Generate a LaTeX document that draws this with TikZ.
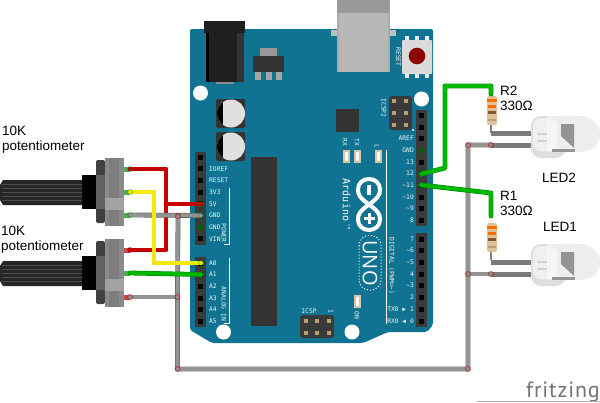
\documentclass[tikz,border=0pt]{standalone}
\usepackage{fontspec}
\setmainfont{Liberation Sans}
\newfontfamily\pcbfont{DejaVu Sans Mono}
\newfontfamily\unofont{Open Sans}
\newfontfamily\fritzfont[LetterSpace=4]{PT Sans}
\definecolor{board}{HTML}{0F7391}
\definecolor{hdr}{HTML}{3A3A3A}
\definecolor{chipc}{HTML}{333333}
\definecolor{potdark}{HTML}{8A8A8A}
\definecolor{potmid}{HTML}{7D7D7D}
\definecolor{potlight}{HTML}{A2A2A2}
\definecolor{knob}{HTML}{262626}
\definecolor{gold}{HTML}{B8A070}
\tikzset{
  lbl/.style={font=\fontsize{13.5}{14}\selectfont,text=black,inner sep=0pt,anchor=base west},
  silk/.style={font=\pcbfont\fontsize{6.3}{7}\selectfont,text=white!92!board,inner sep=0pt},
  wirebase/.style={line width=.6pt,double distance=3.6pt,line cap=round,line join=round},
  wred/.style={wirebase,draw=red!60!black,double=red!78!black},
  wyellow/.style={wirebase,draw=yellow!75!black,double=yellow!95!black},
  wgreen/.style={wirebase,draw=green!55!black,double=green!72!black},
  wgray/.style={wirebase,draw=black!60,double=black!42},
  junc/.style={draw=red!75!black,draw opacity=.55,line width=.9pt,fill=none,circle,minimum size=5pt,inner sep=0pt},
  gjunc/.style={draw=green!60!black,draw opacity=.4,line width=.9pt,fill=none,circle,minimum size=5pt,inner sep=0pt},
  hole/.style={fill=white,draw=none},
  lead/.style={line width=5pt,draw=black!52}
}
\newcommand{\potentiometer}[1]{%
\begin{scope}[yshift=#1]
  \fill[knob] (3,180) -- (82,180) -- (82,205) -- (3,205) -- (0,200) -- (0,185) -- cycle;
  \foreach \yy in {184,188,192,196,200}{\draw[black!70,line width=.5pt] (2,\yy) -- (82,\yy);}
  \fill[black] (82,175) rectangle (96,209);
  \fill[black!75,rounded corners=2pt] (96,160) rectangle (105,223);
  \fill[black!62] (96,175) rectangle (105,209);
  \fill[potdark] (105,158) rectangle (124,226);
  \fill[potmid] (109,158) rectangle (119,226);
  \fill[potlight] (105,198) rectangle (124,210);
\end{scope}}
\newcommand{\ledlamp}[1]{%
\begin{scope}[yshift=#1]
  \fill[black!13,rounded corners=10pt] (531,116) rectangle (566,158);
  \fill[black!7] (547,116) -- (578,116) .. controls (592,116) and (600,124) .. (600,134) .. controls (600,144) and (592,152) .. (578,152) -- (547,152) -- cycle;
  \fill[white,opacity=.55,rounded corners=8pt] (533,118) rectangle (558,151);
  \fill[black!42] (561,124) -- (574,124) -- (574,148) -- (561,136) -- cycle;
  \fill[black!42] (552,149) rectangle (575,152);
  \fill[black!18] (537,133) rectangle (547,135);
  \fill[black!18] (537,140) rectangle (547,142);
\end{scope}}
\newcommand{\resistorbody}[1]{%
\begin{scope}[yshift=#1]
  \fill[black!50] (490,125) rectangle (492,133);
  \fill[gold!80!orange!60!white,rounded corners=2pt] (487,96) rectangle (497,125);
  \fill[orange!85!red] (487,99) rectangle (497,102);
  \fill[orange!85!red] (488,105) rectangle (496,108);
  \fill[brown!70!black] (488,111) rectangle (496,114);
  \fill[gold] (488,119) rectangle (496,121);
\end{scope}}
\begin{document}
\begin{tikzpicture}[x=1pt,y=-1pt]
\useasboundingbox (0,0) rectangle (600,402);
\fill[white] (0,0) rectangle (600,402);
% ---------- board
\fill[board,rounded corners=2pt] (190,29) -- (433,29) -- (433,325) -- (427,332) -- (388,332) -- (363,343) -- (212,343) -- (190,330) -- cycle;
% usb
\fill[black!25] (331,30) rectangle (396,36);
\fill[black!33] (337,0) rectangle (390,72);
\fill[black!40] (337,0) rectangle (390,13);
\fill[black!28] (339,13) rectangle (388,72);
% jack
\fill[black!88] (204,21) rectangle (245,33);
\fill[black!88] (206,33) rectangle (244,82);
\fill[black] (206,33) rectangle (209,82);
\fill[black!80] (237,33) rectangle (244,82);
\fill[black!45] (216,82) rectangle (234,84);
% regulator
\fill[black!40] (260,48) rectangle (277,56);
\fill[chipc] (253,56) rectangle (284,72);
\foreach \xx in {255,266,276}{\fill[black!35] (\xx,72) rectangle +(6,8);}
% reset button
\foreach \xx in {405,415,425}{\fill[black!8] (\xx,36) rectangle +(4,42);}
\fill[black!14,rounded corners=1pt] (402,40) rectangle (432,74);
\fill[red!55!black] (417,56) circle (8.3);
\node[silk,rotate=-90] (resetlabel) at (398.5,57) {RESET};
% holes
\fill[hole] (200.5,93) circle (7.5);
\fill[hole] (421.5,99) circle (7.5);
\fill[hole] (223.5,332) circle (7.5);
\fill[hole] (352,332) circle (7.5);
% capacitors
\foreach \yc in {113.5,146.5}{
  \fill[chipc,rounded corners=2pt] (216,\yc-14.5) rectangle (245,\yc+14.5);
  \fill[black!12] (231,\yc) circle (14);
  \begin{scope}
    \clip (231,\yc) circle (14);
    \fill[black] (216,\yc-15) rectangle (223,\yc+15);
  \end{scope}
}
% chips
\fill[chipc] (336,109) rectangle (359,132);
\fill[chipc] (251,157) rectangle (277,326);
% ICSP2
\fill[hdr,rounded corners=3pt] (389,96) rectangle (412,130);
\foreach \yy in {101,113,125}{\foreach \xx in {394,406}{\fill[gold] (\xx-1.8,\yy-1.8) rectangle (\xx+1.8,\yy+1.8);}}
\fill[white] (413,130) circle (1);
\node[silk,rotate=-90] (icsptwolabel) at (384,108) {ICSP2};
% ICSP
\fill[hdr,rounded corners=3pt] (300,315) rectangle (334,338);
\foreach \yy in {321,333}{\foreach \xx in {306,317,329}{\fill[gold] (\xx-1.8,\yy-1.8) rectangle (\xx+1.8,\yy+1.8);}}
\node[silk] (icsplabel) at (309,311) {ICSP};
\node[silk,rotate=-90] (icspone) at (331,311) {1};
% small LEDs
\foreach \xx in {343,354,375}{\fill[gold!60!white] (\xx,150) rectangle +(6.5,13); \fill[white] (\xx+1.5,152) rectangle +(3.5,9);}
\fill[gold!60!white] (354,295) rectangle +(6.5,13); \fill[white] (355.5,297) rectangle +(3.5,9);
\node[silk,rotate=-90] (rxlabel) at (345,142) {RX};
\node[silk,rotate=-90] (txlabel) at (357,142) {TX};
\node[silk,rotate=-90] (llabel) at (377,146) {L};
\node[silk,rotate=-90] (onlabel) at (357,315) {ON};
% silk lines
\draw[white,line width=.8pt] (386,150) -- (386,323.5);
\draw[white,line width=.8pt] (229.5,188) -- (229.5,244) -- (224,244);
\draw[white,line width=.8pt] (229.5,258) -- (229.5,323.5) -- (224,323.5);
% headers
\fill[hdr] (195,152) rectangle (206,245);
\fill[hdr] (195,257) rectangle (206,327);
\fill[hdr] (416,110) rectangle (427,226);
\fill[hdr] (416,233) rectangle (427,327);
\foreach \yy in {157,168.7,180.4,192,203.7,215.4,238.8}{\fill[black] (198,\yy-2.5) rectangle +(5,5);}
\fill[black!40!green!60!black] (198,224.5) rectangle +(5,5);
\foreach \yy in {263,274.7,286.4,298,309.7,321.4}{\fill[black] (198,\yy-2.5) rectangle +(5,5);}
\foreach \yy in {115,127,138.5,162,173.5,185,197,208.5,220}{\fill[black] (419,\yy-2.5) rectangle +(5,5);}
\fill[black!40!green!60!black] (419,147.5) rectangle +(5,5);
\foreach \yy in {239,250.7,262.4,274,285.7,297.4,309,321}{\fill[black] (419,\yy-2.5) rectangle +(5,5);}
% left labels
\foreach \yy/\tt/\nn in {169/IOREF/a,180/RESET/b,192/3V3/c,204/5V/d,215.5/GND/e,227/GND/f,239/VIN/g,263/A0/h,274.5/A1/i,286/A2/j,298/A3/k,309.5/A4/l,321/A5/m}{
  \node[silk,anchor=west] (pin\nn) at (209,\yy) {\tt};}
\node[silk,rotate=-90] (powerlabel) at (224,233) {POWER};
\node[silk,rotate=-90] (analoglabel) at (224,304) {ANALOG IN};
% right labels
\foreach \yy/\tt/\nn in {138.5/AREF/a,150/GND/b,162/13/c,173.5/12/d,185/\textasciitilde 11/e,197/\textasciitilde 10/f,208.5/\textasciitilde 9/g,220/8/h,239/7/i,250.7/\textasciitilde 6/j,262.4/\textasciitilde 5/k,274/4/l,285.7/\textasciitilde 3/m,297.4/2/n,309/TX0 ▶ 1/o,321/RX0 ◀ 0/p}{
  \node[silk,anchor=east] (dig\nn) at (414,\yy) {\tt};}
\node[silk,rotate=-90] (digitallabel) at (391.5,266) {DIGITAL (PWM=\textasciitilde)};
% logo
\draw[white,line width=4pt] (369,204.5) .. controls (378,198) and (380,195) .. (380,189.5) .. controls (380,183) and (375,179) .. (369,179) .. controls (363,179) and (358,183) .. (358,189.5) .. controls (358,195) and (360,198) .. (369,204.5) .. controls (378,211) and (380,214) .. (380,219.5) .. controls (380,226) and (375,230) .. (369,230) .. controls (363,230) and (358,226) .. (358,219.5) .. controls (358,214) and (360,211) .. (369,204.5) -- cycle;
\fill[white] (367,184.5) rectangle (370.5,195);
\fill[white] (363.5,216.5) rectangle (374.5,219.5);
\fill[white] (367.5,212.5) rectangle (370.5,223.5);
\node[font=\pcbfont\fontsize{10}{10}\selectfont,text=white,rotate=-90,inner sep=0pt] (arduinolabel) at (346.5,200) {Arduino};
\node[font=\pcbfont\fontsize{3.5}{4}\selectfont,text=white,rotate=-90,inner sep=0pt] (tmlabel) at (349,227) {TM};
\draw[white,line width=1pt,dotted,rounded corners=10pt] (359,235.5) rectangle (381,290);
\node[font=\unofont\fontsize{20}{20}\selectfont,text=white,rotate=-90,inner sep=0pt] (unolabel) at (370,263) {UNO};
% ---------- potentiometers, resistors, LEDs
\potentiometer{0pt}
\potentiometer{-81pt}
\resistorbody{0pt}
\resistorbody{-127pt}
\draw[lead] (491,133) -- (532,133);
\draw[lead] (491,145) -- (532,145);
\draw[lead] (491,262) -- (532,262);
\draw[lead] (491,274) -- (532,274);
\ledlamp{0pt}
\ledlamp{-128pt}
% ---------- connection points
\coordinate (p1a) at (130,169); \coordinate (p1b) at (130,192); \coordinate (p1c) at (130,215);
\coordinate (p2a) at (130,250); \coordinate (p2b) at (130,273); \coordinate (p2c) at (130,297);
\coordinate (vcc) at (201,204); \coordinate (gnd) at (201,215.5);
\coordinate (azero) at (201,263); \coordinate (aone) at (201,274.5);
\coordinate (redt) at (166,169); \coordinate (redb) at (166,250); \coordinate (redm) at (166,204);
\coordinate (yelt) at (154,192); \coordinate (yelb) at (154,263);
\coordinate (gj) at (178,216); \coordinate (gm) at (177.5,297); \coordinate (gb) at (177.5,369);
\coordinate (gr) at (468,369); \coordinate (l1) at (468,274); \coordinate (l2) at (468,145);
\coordinate (c1) at (491,274); \coordinate (c2) at (491,145);
\coordinate (d12) at (421,174); \coordinate (d11) at (421,185);
\coordinate (g2a) at (445,168); \coordinate (g2b) at (445,86); \coordinate (r2t) at (491,86);
\coordinate (g1a) at (491,193); \coordinate (r1t) at (491,216);
% stubs on pots
\fill[green!55!black!70] (124,166.5) rectangle (130,171.5);
\fill[green!55!black!70] (124,189.5) rectangle (130,194.5);
\fill[green!55!black!70] (124,212.5) rectangle (130,217.5);
\fill[red!70!black!70] (124,247.5) rectangle (130,252.5);
\fill[green!55!black!70] (124,270.5) rectangle (130,275.5);
\fill[red!70!black!70] (124,294.5) rectangle (130,299.5);
% ---------- wires
\draw[wred] (p1a) -- (redt) -- (redb) -- (p2a);
\draw[wred] (redm) -- (vcc);
\draw[wgray] (p1c) -- (gnd);
\draw[wgray] (p2c) -- (gm);
\draw[wgray] (gj) -- (gm) -- (gb) -- (gr) -- (l2) -- (c2);
\draw[wgray] (l1) -- (c1);
\draw[wyellow] (p1b) -- (yelt) -- (yelb) -- (azero);
\draw[wgreen] (p2b) -- (aone);
\draw[wgreen] (d12) -- (g2a) -- (g2b) -- (r2t) -- (491,94);
\draw[wgreen] (d11) -- (g1a) -- (r1t);
% ---------- junction marks
\foreach \cc in {p1a,p1b,p1c,vcc,gnd,azero,aone,d12,d11}{\node[gjunc] at (\cc) {};}
\foreach \cc in {gj,gm,gb,gr,l1,l2,c1,c2,p2a,p2c}{\node[junc] at (\cc) {};}
% ---------- labels
\node[lbl] (pot1a) at (2,135) {10K};
\node[lbl] (pot1b) at (2,150) {potentiometer};
\node[lbl] (pot2a) at (1,235) {10K};
\node[lbl] (pot2b) at (1,250) {potentiometer};
\node[lbl] (r2a) at (500,95) {R2};
\node[lbl] (r2b) at (500,110) {330Ω};
\node[lbl] (r1a) at (500,200) {R1};
\node[lbl] (r1b) at (500,215) {330Ω};
\node[lbl] (led2) at (542,182) {LED2};
\node[lbl] (led1) at (543,231) {LED1};
\node[font=\fritzfont\fontsize{22}{22}\selectfont,text=black!55,inner sep=0pt,anchor=base east] (fritz) at (600,397) {fritzing};
\fill[black!30] (477,400.6) rectangle (600,401.4);
\end{tikzpicture}
\end{document}
